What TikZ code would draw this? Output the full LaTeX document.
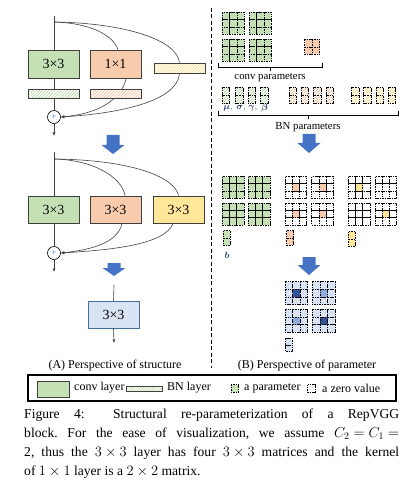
\documentclass[tikz,border=0pt]{standalone}
\usepackage{fontspec}
\setmainfont{Liberation Serif}
\usepackage{bm}
\usetikzlibrary{patterns.meta,arrows.meta}
\definecolor{cgreen}{HTML}{C5E0B4}
\definecolor{corange}{HTML}{F8CBAD}
\definecolor{cyellow}{HTML}{FFE699}
\definecolor{hgreen}{HTML}{A9D18E}
\definecolor{horange}{HTML}{F4B183}
\definecolor{hyellow}{HTML}{FFD966}
\definecolor{boxgray}{HTML}{3F3F3F}
\definecolor{wiregray}{HTML}{404040}
\definecolor{arrowblue}{HTML}{4472C4}
\definecolor{lblue}{HTML}{DAE3F3}
\definecolor{mblue}{HTML}{8FAADC}
\definecolor{dblue}{HTML}{2F5597}
\definecolor{bborder}{HTML}{41719C}
\definecolor{greek}{HTML}{203864}
\definecolor{plusblue}{HTML}{4472C4}
\pgfdeclarelayer{bg}
\pgfsetlayers{bg,main}
\newcommand\pgrid[7]{%
  \foreach \ci in {1,...,#3}{\foreach \cj in {1,...,#4}{%
    \path[cell,#7] ({#1+(\ci-1)*#5},{#2+(\cj-1)*#6}) rectangle ++(#5,#6);}}}
\newcommand\pcell[4]{\path[cell,fill=#4] (#1,#2) rectangle ++(#3,#3);}
\newcommand\barrow[4]{\fill[arrowblue] ({#1-6.5},#2) -- ({#1+6.5},#2) -- ({#1+6.5},#3) -- ({#1+11.5},#3) -- (#1,#4) -- ({#1-11.5},#3) -- ({#1-6.5},#3) -- cycle;}
\tikzset{
  layerbox/.style={draw=boxgray, line width=0.9pt, minimum width=51pt, minimum height=28pt, inner sep=0, font=\fontsize{14}{16}\selectfont},
  hatch/.style={preaction={fill=white}, preaction={pattern color=#1, pattern={Lines[angle=45,distance=2.2pt,line width=0.5pt]}}},
  bnbar/.style={draw=boxgray, line width=0.9pt, minimum width=51pt, minimum height=9.5pt, inner sep=0},
  wire/.style={draw=wiregray, line width=0.6pt},
  tipped/.style={-{Latex[length=3.5pt,width=3pt]}},
  sumnode/.style={circle, draw=black, fill=white, minimum size=13pt, inner sep=0, line width=0.6pt, font=\fontsize{9}{9}\selectfont\color{plusblue}},
  cell/.style={draw=black, line width=0.8pt, dash pattern=on 1.5pt off 0.9pt},
  lbl/.style={font=\fontsize{10.8}{12}\selectfont, inner sep=0},
  legtxt/.style={font=\fontsize{12}{13}\selectfont, inner sep=0, anchor=west},
  captxt/.style={font=\fontsize{12}{14}\selectfont, inner sep=0},
  greeklbl/.style={font=\fontsize{9}{10}\selectfont, text=greek, inner sep=0}
}
\begin{document}
\begin{tikzpicture}[x=1pt,y=-1pt]
\useasboundingbox (0,0) rectangle (404,494);

% ---------------- Block 1 ----------------
\coordinate (in1) at (54,16);
\coordinate (s1) at (54,22);
\node[layerbox, fill=cgreen] (g1) at (53.5,64) {3×3};
\node[layerbox, fill=corange] (o1) at (115.5,64) {1×1};
\node[bnbar, hatch=hyellow] (y1) at (179.5,68.5) {};
\node[bnbar, hatch=hgreen] (gb1) at (53.5,94) {};
\node[bnbar, hatch=horange] (ob1) at (115.5,94) {};
\node[sumnode] (p1) at (54,117) {+};
\coordinate (out1) at (54,136);
\begin{pgfonlayer}{bg}
\draw[wire] (in1) -- (p1.north);
\draw[wire] (s1) .. controls (90,23) and (113,35) .. ([xshift=2.5pt]o1.north);
\draw[wire] (s1) .. controls (125,23) and (178,40) .. (y1.north);
\draw[wire,tipped] ([xshift=10.5pt]o1.south) .. controls (123,95) and (105,113) .. (p1.east);
\draw[wire,tipped] (y1.south) .. controls (177,100) and (125,113) .. (p1.east);
\draw[wire,tipped] (p1.south) -- (out1);
\end{pgfonlayer}

\barrow{113}{135}{145}{154}

% ---------------- Block 2 ----------------
\coordinate (in2) at (54,152);
\coordinate (s2) at (54,159);
\node[layerbox, minimum height=27pt, fill=cgreen] (g2) at (53.5,209.5) {3×3};
\node[layerbox, minimum height=27pt, fill=corange] (o2) at (115.5,209.5) {3×3};
\node[layerbox, minimum height=27pt, fill=cyellow] (y2) at (178.5,209.5) {3×3};
\node[sumnode] (p2) at (54,253) {+};
\coordinate (out2) at (54,272);
\begin{pgfonlayer}{bg}
\draw[wire] (in2) -- (p2.north);
\draw[wire] (s2) .. controls (95,160) and (122,178) .. ([xshift=9.5pt]o2.north);
\draw[wire] (s2) .. controls (135,160) and (175,178) .. (y2.north);
\draw[wire,tipped] ([xshift=6.5pt]o2.south) .. controls (118,243) and (90,250) .. (p2.east);
\draw[wire,tipped] ([xshift=-5.5pt]y2.south) .. controls (165,245) and (110,250) .. (p2.east);
\draw[wire,tipped] (p2.south) -- (out2);
\end{pgfonlayer}

\barrow{114}{263}{268}{276}

% ---------------- Block 3 ----------------
\coordinate (in3) at (114,285);
\node[layerbox, minimum height=27pt, fill=lblue, draw=bborder] (b3) at (113.5,314.5) {3×3};
\coordinate (out3) at (114,343);
\draw[wire] (in3) -- (b3.north);
\draw[wire,tipped] (b3.south) -- (out3);

\node[captxt] (capA) at (115,366) {(A) Perspective of structure};

% ---------------- separator ----------------
\draw[line width=1.3pt, dash pattern=on 4pt off 2.5pt] (211.5,8) -- (211.5,368);

% ---------------- conv parameters ----------------
\pgrid{222.3}{12.3}{3}{3}{7.33}{7.33}{fill=cgreen}
\pgrid{249.3}{12.3}{3}{3}{7.33}{7.33}{fill=cgreen}
\pgrid{222.3}{39.3}{3}{3}{7.33}{7.33}{fill=cgreen}
\pgrid{249.3}{39.3}{3}{3}{7.33}{7.33}{fill=cgreen}
\pgrid{304.5}{39.5}{2}{2}{7.5}{7.5}{fill=corange}
\draw[line width=0.8pt] (218,63) -- (218,67) -- (322,67) -- (322,63) (270,67) -- (270,71);
\node[lbl] (convlbl) at (270,78) {conv parameters};

% ---------------- BN parameters ----------------
\foreach \xx in {222.3,235.7,248.3,260.7}{\pgrid{\xx}{87.3}{1}{2}{7.5}{8.2}{hatch=hgreen}}
\foreach \xx in {289,301,313.7,326}{\pgrid{\xx}{87.3}{1}{2}{7.5}{8.2}{hatch=horange}}
\foreach \xx in {351.7,363.7,376,388.3}{\pgrid{\xx}{87.3}{1}{2}{7.5}{8.2}{hatch=hyellow}}
\node[greeklbl] (mu) at (228,108) {$\bm{\mu},$};
\node[greeklbl] (sigma) at (241,108) {$\bm{\sigma},$};
\node[greeklbl] (gamma) at (253,108) {$\bm{\gamma},$};
\node[greeklbl] (beta) at (264.5,108) {$\bm{\beta}$};
\draw[line width=0.8pt] (218,111) -- (218,115) -- (398,115) -- (398,111) (308,115) -- (308,119);
\node[lbl] (bnlbl) at (308,127) {BN parameters};

\barrow{309}{134}{143}{153}

% ---------------- fused parameters ----------------
\pgrid{222.3}{176.7}{3}{3}{7.2}{7.2}{fill=cgreen}
\pgrid{248.3}{176.7}{3}{3}{7.2}{7.2}{fill=cgreen}
\pgrid{222.3}{203.3}{3}{3}{7.2}{7.2}{fill=cgreen}
\pgrid{248.3}{203.3}{3}{3}{7.2}{7.2}{fill=cgreen}
\pgrid{223.3}{230.7}{1}{2}{7}{7.2}{fill=cgreen}
\node[greeklbl] (blbl) at (227,255) {$\bm{b}$};

\pgrid{285}{176.7}{3}{3}{7.2}{7.2}{fill=white}
\pgrid{311.7}{176.7}{3}{3}{7.2}{7.2}{fill=white}
\pgrid{285}{203.3}{3}{3}{7.2}{7.2}{fill=white}
\pgrid{311.7}{203.3}{3}{3}{7.2}{7.2}{fill=white}
\pcell{292.2}{183.9}{7.2}{corange}
\pcell{318.9}{183.9}{7.2}{corange}
\pcell{292.2}{210.5}{7.2}{corange}
\pcell{318.9}{210.5}{7.2}{corange}
\pgrid{286.7}{230.7}{1}{2}{7}{7.2}{fill=corange}

\pgrid{348.3}{176.7}{3}{3}{7.2}{7.2}{fill=white}
\pgrid{375}{176.7}{3}{3}{7.2}{7.2}{fill=white}
\pgrid{348.3}{203.3}{3}{3}{7.2}{7.2}{fill=white}
\pgrid{375}{203.3}{3}{3}{7.2}{7.2}{fill=white}
\pcell{355.5}{183.9}{7.2}{cyellow}
\pcell{382.2}{210.5}{7.2}{cyellow}
\pgrid{348.3}{231.7}{1}{2}{7}{7.2}{fill=cyellow}

\barrow{309}{257}{265}{275}

% ---------------- final parameters ----------------
\pgrid{285}{281.7}{3}{3}{7.6}{7.6}{fill=lblue}
\pgrid{312.3}{281.7}{3}{3}{7.6}{7.6}{fill=lblue}
\pgrid{285}{309.3}{3}{3}{7.6}{7.6}{fill=lblue}
\pgrid{312.3}{309.3}{3}{3}{7.6}{7.6}{fill=lblue}
\pcell{292.6}{289.3}{7.6}{dblue}
\pcell{319.9}{289.3}{7.6}{mblue}
\pcell{292.6}{316.9}{7.6}{mblue}
\pcell{319.9}{316.9}{7.6}{dblue}
\pgrid{285.7}{338.3}{1}{2}{6.7}{6.7}{fill=lblue}

\node[captxt] (capB) at (307,366) {(B) Perspective of parameter};

% ---------------- legend ----------------
\node[draw=black, line width=1.2pt, minimum width=368pt, minimum height=26pt, inner sep=0] (legend) at (212,388) {};
\node[draw=boxgray, line width=0.9pt, fill=cgreen, minimum width=32pt, minimum height=16pt, inner sep=0] (legconv) at (53,389) {};
\node[legtxt] (legconvt) at (74,388) {conv layer};
\node[bnbar, hatch=hgreen, minimum width=36pt, minimum height=5pt, line width=0.7pt] (legbn) at (144,388.5) {};
\node[legtxt] (legbnt) at (167,388) {BN layer};
\pcell{231}{384.5}{7.5}{cgreen}
\node[legtxt] (legpt) at (244,388) {a parameter};
\pcell{307.5}{384.5}{7.5}{white}
\node[legtxt] (legzt) at (322,388) {a zero value};

% ---------------- caption ----------------
\node[anchor=north west, inner sep=0, text width=375pt, align=justify, font=\fontsize{13.6}{19.2}\selectfont] (caption) at (24,408.5) {\noindent\frenchspacing\hyphenpenalty=10000\thickmuskip=5mu\medmuskip=4mu Figure 4:\ \ Structural re-parameterization of a RepVGG\linebreak block. For the ease of visualization, we assume $C_2=C_1=$\linebreak 2, thus the $3\times3$ layer has four $3\times3$ matrices and the kernel\linebreak of $1\times1$ layer is a $2\times2$ matrix.};
\end{tikzpicture}
\end{document}
